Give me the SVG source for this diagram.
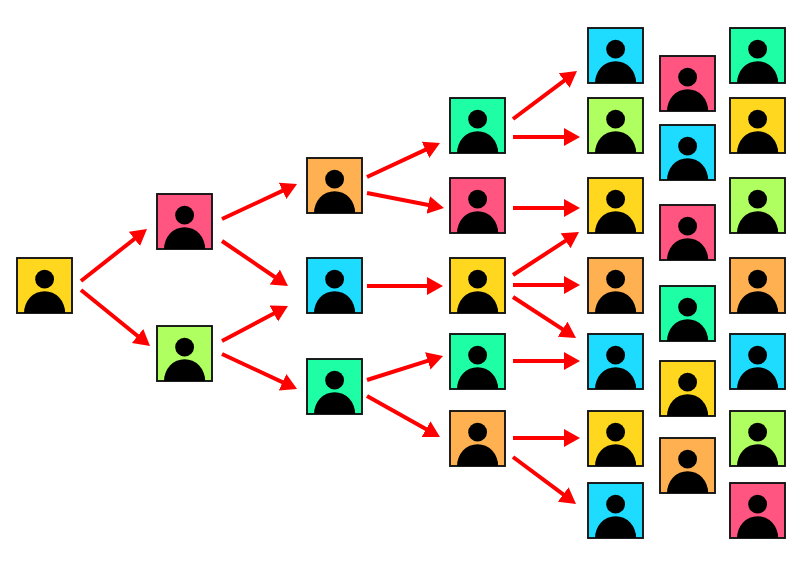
<svg xmlns="http://www.w3.org/2000/svg" xmlns:xlink="http://www.w3.org/1999/xlink" width="800" height="572" viewBox="0 0 800 572">
<style>
.box{stroke:#141414;stroke-width:1.9;width:55px;height:55px}
.y{fill:#FFD71E}.p{fill:#FF5580}.l{fill:#AEFF5F}.o{fill:#FFB050}.c{fill:#1EDCFF}.g{fill:#1EFFA5}
#connectors line{stroke:#FF0000;stroke-width:4;marker-end:url(#head)}
</style>
<defs>
<marker id="head" markerUnits="userSpaceOnUse" markerWidth="20" markerHeight="20" refX="8" refY="9" orient="auto"><path d="M0 0L16 9L0 18Z" fill="#FF0000"/></marker>
<g id="person"><circle cx="27.6" cy="21.2" r="9.4"/><path d="M7 55A20.6 21.8 0 0 1 48.2 55Z"/></g>
</defs>
<rect width="800" height="572" fill="#fff"/>
<g id="connectors">
<line x1="81" y1="281" x2="140.7" y2="234"/>
<line x1="81" y1="290" x2="143.8" y2="341"/>
<line x1="222" y1="219" x2="289.8" y2="187.4"/>
<line x1="222" y1="241" x2="281.4" y2="281.5"/>
<line x1="222" y1="341" x2="280.9" y2="309.8"/>
<line x1="222" y1="354" x2="289.8" y2="385.6"/>
<line x1="367" y1="177" x2="432.7" y2="146.4"/>
<line x1="367" y1="193" x2="436.1" y2="206.5"/>
<line x1="367" y1="286" x2="435" y2="286"/>
<line x1="367" y1="380" x2="435.4" y2="358.4"/>
<line x1="367" y1="396" x2="433" y2="433.1"/>
<line x1="513" y1="119" x2="570.6" y2="75.8"/>
<line x1="513" y1="137" x2="572" y2="137"/>
<line x1="513" y1="208" x2="572" y2="208"/>
<line x1="513" y1="275" x2="572.3" y2="236.4"/>
<line x1="513" y1="285" x2="572" y2="285"/>
<line x1="513" y1="297" x2="569.3" y2="333.6"/>
<line x1="513" y1="361" x2="572" y2="361"/>
<line x1="513" y1="438" x2="572" y2="438"/>
<line x1="513" y1="457" x2="569.6" y2="499.2"/>
</g>
<g id="n1" transform="translate(17,258)"><rect class="box y"/><use href="#person"/></g>
<g id="n2" transform="translate(157,194)"><rect class="box p"/><use href="#person"/></g>
<g id="n3" transform="translate(157,326)"><rect class="box l"/><use href="#person"/></g>
<g id="n4" transform="translate(307,158)"><rect class="box o"/><use href="#person"/></g>
<g id="n5" transform="translate(307,258)"><rect class="box c"/><use href="#person"/></g>
<g id="n6" transform="translate(307,359)"><rect class="box g"/><use href="#person"/></g>
<g id="n7" transform="translate(450,98)"><rect class="box g"/><use href="#person"/></g>
<g id="n8" transform="translate(450,178)"><rect class="box p"/><use href="#person"/></g>
<g id="n9" transform="translate(450,258)"><rect class="box y"/><use href="#person"/></g>
<g id="n10" transform="translate(450,334)"><rect class="box g"/><use href="#person"/></g>
<g id="n11" transform="translate(450,411)"><rect class="box o"/><use href="#person"/></g>
<g id="n12" transform="translate(588,28)"><rect class="box c"/><use href="#person"/></g>
<g id="n13" transform="translate(588,98)"><rect class="box l"/><use href="#person"/></g>
<g id="n14" transform="translate(588,178)"><rect class="box y"/><use href="#person"/></g>
<g id="n15" transform="translate(588,258)"><rect class="box o"/><use href="#person"/></g>
<g id="n16" transform="translate(588,334)"><rect class="box c"/><use href="#person"/></g>
<g id="n17" transform="translate(588,411)"><rect class="box y"/><use href="#person"/></g>
<g id="n18" transform="translate(588,483)"><rect class="box c"/><use href="#person"/></g>
<g id="n19" transform="translate(660,56)"><rect class="box p"/><use href="#person"/></g>
<g id="n20" transform="translate(660,125)"><rect class="box c"/><use href="#person"/></g>
<g id="n21" transform="translate(660,205)"><rect class="box p"/><use href="#person"/></g>
<g id="n22" transform="translate(660,286)"><rect class="box g"/><use href="#person"/></g>
<g id="n23" transform="translate(660,361)"><rect class="box y"/><use href="#person"/></g>
<g id="n24" transform="translate(660,438)"><rect class="box o"/><use href="#person"/></g>
<g id="n25" transform="translate(730,28)"><rect class="box g"/><use href="#person"/></g>
<g id="n26" transform="translate(730,98)"><rect class="box y"/><use href="#person"/></g>
<g id="n27" transform="translate(730,178)"><rect class="box l"/><use href="#person"/></g>
<g id="n28" transform="translate(730,258)"><rect class="box o"/><use href="#person"/></g>
<g id="n29" transform="translate(730,334)"><rect class="box c"/><use href="#person"/></g>
<g id="n30" transform="translate(730,411)"><rect class="box l"/><use href="#person"/></g>
<g id="n31" transform="translate(730,483)"><rect class="box p"/><use href="#person"/></g>
</svg>
